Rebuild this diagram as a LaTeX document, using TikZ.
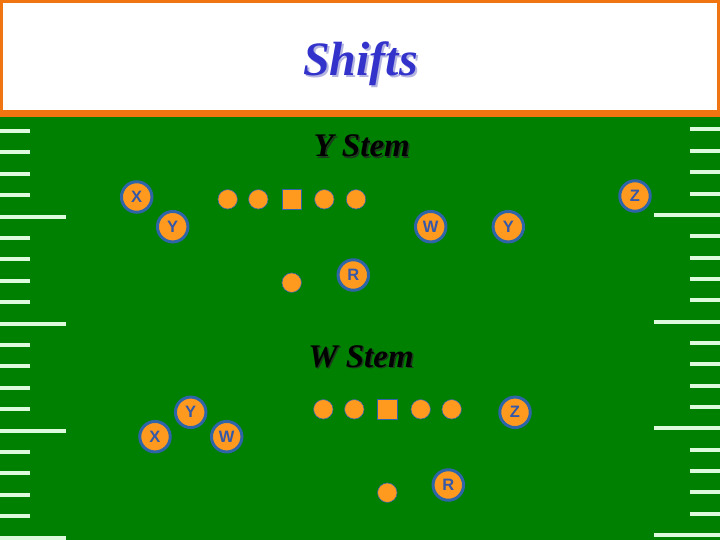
\documentclass[tikz,border=0pt]{standalone}
\usepackage{fontspec}
\setmainfont{Liberation Serif}
\newfontfamily\lettersf{Liberation Sans}
\definecolor{field}{HTML}{008000}
\definecolor{hash}{HTML}{DDFADD}
\definecolor{bord}{HTML}{F07410}
\definecolor{pfill}{HTML}{FF9A1F}
\definecolor{pline}{HTML}{2E64A8}
\definecolor{ptext}{HTML}{3558A8}
\definecolor{ttl}{HTML}{3333CC}
\definecolor{ttlsh}{HTML}{B4B4E0}
\definecolor{stemsh}{HTML}{1E3A1E}
\begin{document}
\begin{tikzpicture}[x=1pt,y=-1pt,
  player/.style={circle,fill=pfill,draw=pline,line width=3pt,minimum size=30.5pt,inner sep=0pt,
    font=\lettersf\bfseries\fontsize{16.5}{16.5}\selectfont,text=ptext},
  dot/.style={circle,fill=pfill,draw=pline,line width=0.6pt,minimum size=19.5pt,inner sep=0pt},
  ctr/.style={rectangle,fill=pfill,draw=pline,line width=0.6pt,minimum size=19.5pt,inner sep=0pt},
  titletxt/.style={anchor=base,inner sep=0pt,font=\bfseries\itshape\fontsize{48}{48}\selectfont},
  stemtxt/.style={anchor=base,inner sep=0pt,font=\bfseries\itshape\fontsize{33}{33}\selectfont}]
\useasboundingbox (0,0) rectangle (720,540);
\fill[field] (0,0) rectangle (720,540);
\fill[bord] (0,0) rectangle (720,117);
\fill[white] (3,3) rectangle (717,110);
% hash marks
\foreach \k in {0,...,19}{
  \pgfmathsetmacro{\yl}{131+21.4*\k}
  \pgfmathsetmacro{\yr}{129.5+21.35*\k}
  \pgfmathtruncatemacro{\m}{mod(\k,5)}
  \ifnum\m=4
    \fill[hash] (0,\yl-2) rectangle (66,\yl+2);
    \fill[hash] (654,\yr-2) rectangle (720,\yr+2);
  \else
    \fill[hash] (0,\yl-2) rectangle (30,\yl+2);
    \fill[hash] (690,\yr-2) rectangle (720,\yr+2);
  \fi
}
% title
\node[titletxt,text=ttlsh] (titlesh) at (362.5,78) {Shifts};
\node[titletxt,text=ttl] (title) at (360.5,76) {Shifts};
% Y Stem
\node[stemtxt,text=stemsh] (ystemsh) at (363.2,158.2) {Y Stem};
\node[stemtxt,text=black] (ystem) at (361.7,156.7) {Y Stem};
\node[player] (x1) at (136.7,197) {X};
\node[player] (y1) at (172.7,226.7) {Y};
\node[dot] (l1a) at (227.7,199.3) {};
\node[dot] (l1b) at (258.3,199.3) {};
\node[ctr] (c1) at (291.7,199.3) {};
\node[dot] (l1c) at (324.3,199.3) {};
\node[dot] (l1d) at (356,199.3) {};
\node[player] (w1) at (430.7,226.7) {W};
\node[player] (y1b) at (508.3,226.7) {Y};
\node[player] (z1) at (635,196) {Z};
\node[dot] (q1) at (291.7,282.7) {};
\node[player] (r1) at (353.3,275) {R};
% W Stem
\node[stemtxt,text=stemsh] (wstemsh) at (362.5,368.8) {W Stem};
\node[stemtxt,text=black] (wstem) at (361,367.3) {W Stem};
\node[player] (y2) at (190.7,412.3) {Y};
\node[player] (x2) at (155,436.7) {X};
\node[player] (w2) at (226.7,436.7) {W};
\node[dot] (l2a) at (323.3,409.3) {};
\node[dot] (l2b) at (354.3,409.3) {};
\node[ctr] (c2) at (387.3,409.3) {};
\node[dot] (l2c) at (420.7,409.3) {};
\node[dot] (l2d) at (451.7,409.3) {};
\node[player] (z2) at (515,412.3) {Z};
\node[dot] (q2) at (387.3,492.7) {};
\node[player] (r2) at (448.3,485) {R};
\end{tikzpicture}
\end{document}
